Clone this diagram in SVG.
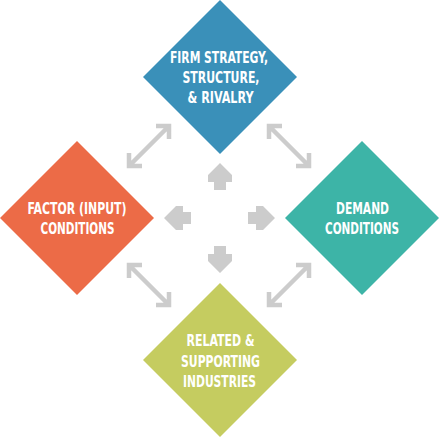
<svg xmlns="http://www.w3.org/2000/svg" width="439" height="437" viewBox="0 0 439 437">
<style>
.lbl{font-family:"Liberation Sans Narrow","DejaVu Sans Condensed","Roboto Condensed","Liberation Sans",sans-serif;font-weight:bold;font-size:16px;fill:#ffffff;text-anchor:middle}
.blk{fill:#cccccc}
.dbl{fill:none;stroke:#cccccc;stroke-width:4.5;stroke-linejoin:miter;stroke-linecap:butt}
</style>
<rect width="439" height="437" fill="#ffffff"/>
<g id="connectors">
<polygon class="blk" points="220,163 232,175 232,182 226,182 226,190 214,190 214,182 208,182 208,175"/>
<polygon class="blk" points="220,273 232,261 232,254 226,254 226,246 214,246 214,254 208,254 208,261"/>
<polygon class="blk" points="164,218 176,206 183,206 183,212 191,212 191,224 183,224 183,230 176,230"/>
<polygon class="blk" points="275,218 263,206 256,206 256,212 248,212 248,224 256,224 256,230 263,230"/>
<path class="dbl" d="M129,166 L169,126 M156,126 L169,126 L169,139 M129,153 L129,166 L142,166"/>
<path class="dbl" d="M309,166 L269,126 M282,126 L269,126 L269,139 M309,153 L309,166 L296,166"/>
<path class="dbl" d="M129,265 L169,305 M156,305 L169,305 L169,292 M129,278 L129,265 L142,265"/>
<path class="dbl" d="M309,265 L269,305 M282,305 L269,305 L269,292 M309,278 L309,265 L296,265"/>
</g>
<g id="firm">
<polygon points="220,0 297,77 220,154 143,77" fill="#3a90b9"/>
<text class="lbl" x="219" y="63" textLength="98" lengthAdjust="spacingAndGlyphs">FIRM STRATEGY,</text>
<text class="lbl" x="221" y="83" textLength="77" lengthAdjust="spacingAndGlyphs">STRUCTURE,</text>
<text class="lbl" x="220.5" y="103" textLength="66" lengthAdjust="spacingAndGlyphs">&amp; RIVALRY</text>
</g>
<g id="factor">
<polygon points="77,141 154,218 77,295 0,218" fill="#ec6b47"/>
<text class="lbl" x="77" y="213.5" textLength="99" lengthAdjust="spacingAndGlyphs">FACTOR (INPUT)</text>
<text class="lbl" x="77.5" y="234" textLength="74" lengthAdjust="spacingAndGlyphs">CONDITIONS</text>
</g>
<g id="demand">
<polygon points="362,141 439,218 362,295 285,218" fill="#3db4a7"/>
<text class="lbl" x="362.5" y="213.5" textLength="53" lengthAdjust="spacingAndGlyphs">DEMAND</text>
<text class="lbl" x="362" y="234" textLength="74" lengthAdjust="spacingAndGlyphs">CONDITIONS</text>
</g>
<g id="related">
<polygon points="220,283 297,360 220,437 143,360" fill="#c5cc60"/>
<text class="lbl" x="220.5" y="345.5" textLength="68" lengthAdjust="spacingAndGlyphs">RELATED &amp;</text>
<text class="lbl" x="220.5" y="366.5" textLength="79" lengthAdjust="spacingAndGlyphs">SUPPORTING</text>
<text class="lbl" x="219.5" y="386.5" textLength="73" lengthAdjust="spacingAndGlyphs">INDUSTRIES</text>
</g>
</svg>
